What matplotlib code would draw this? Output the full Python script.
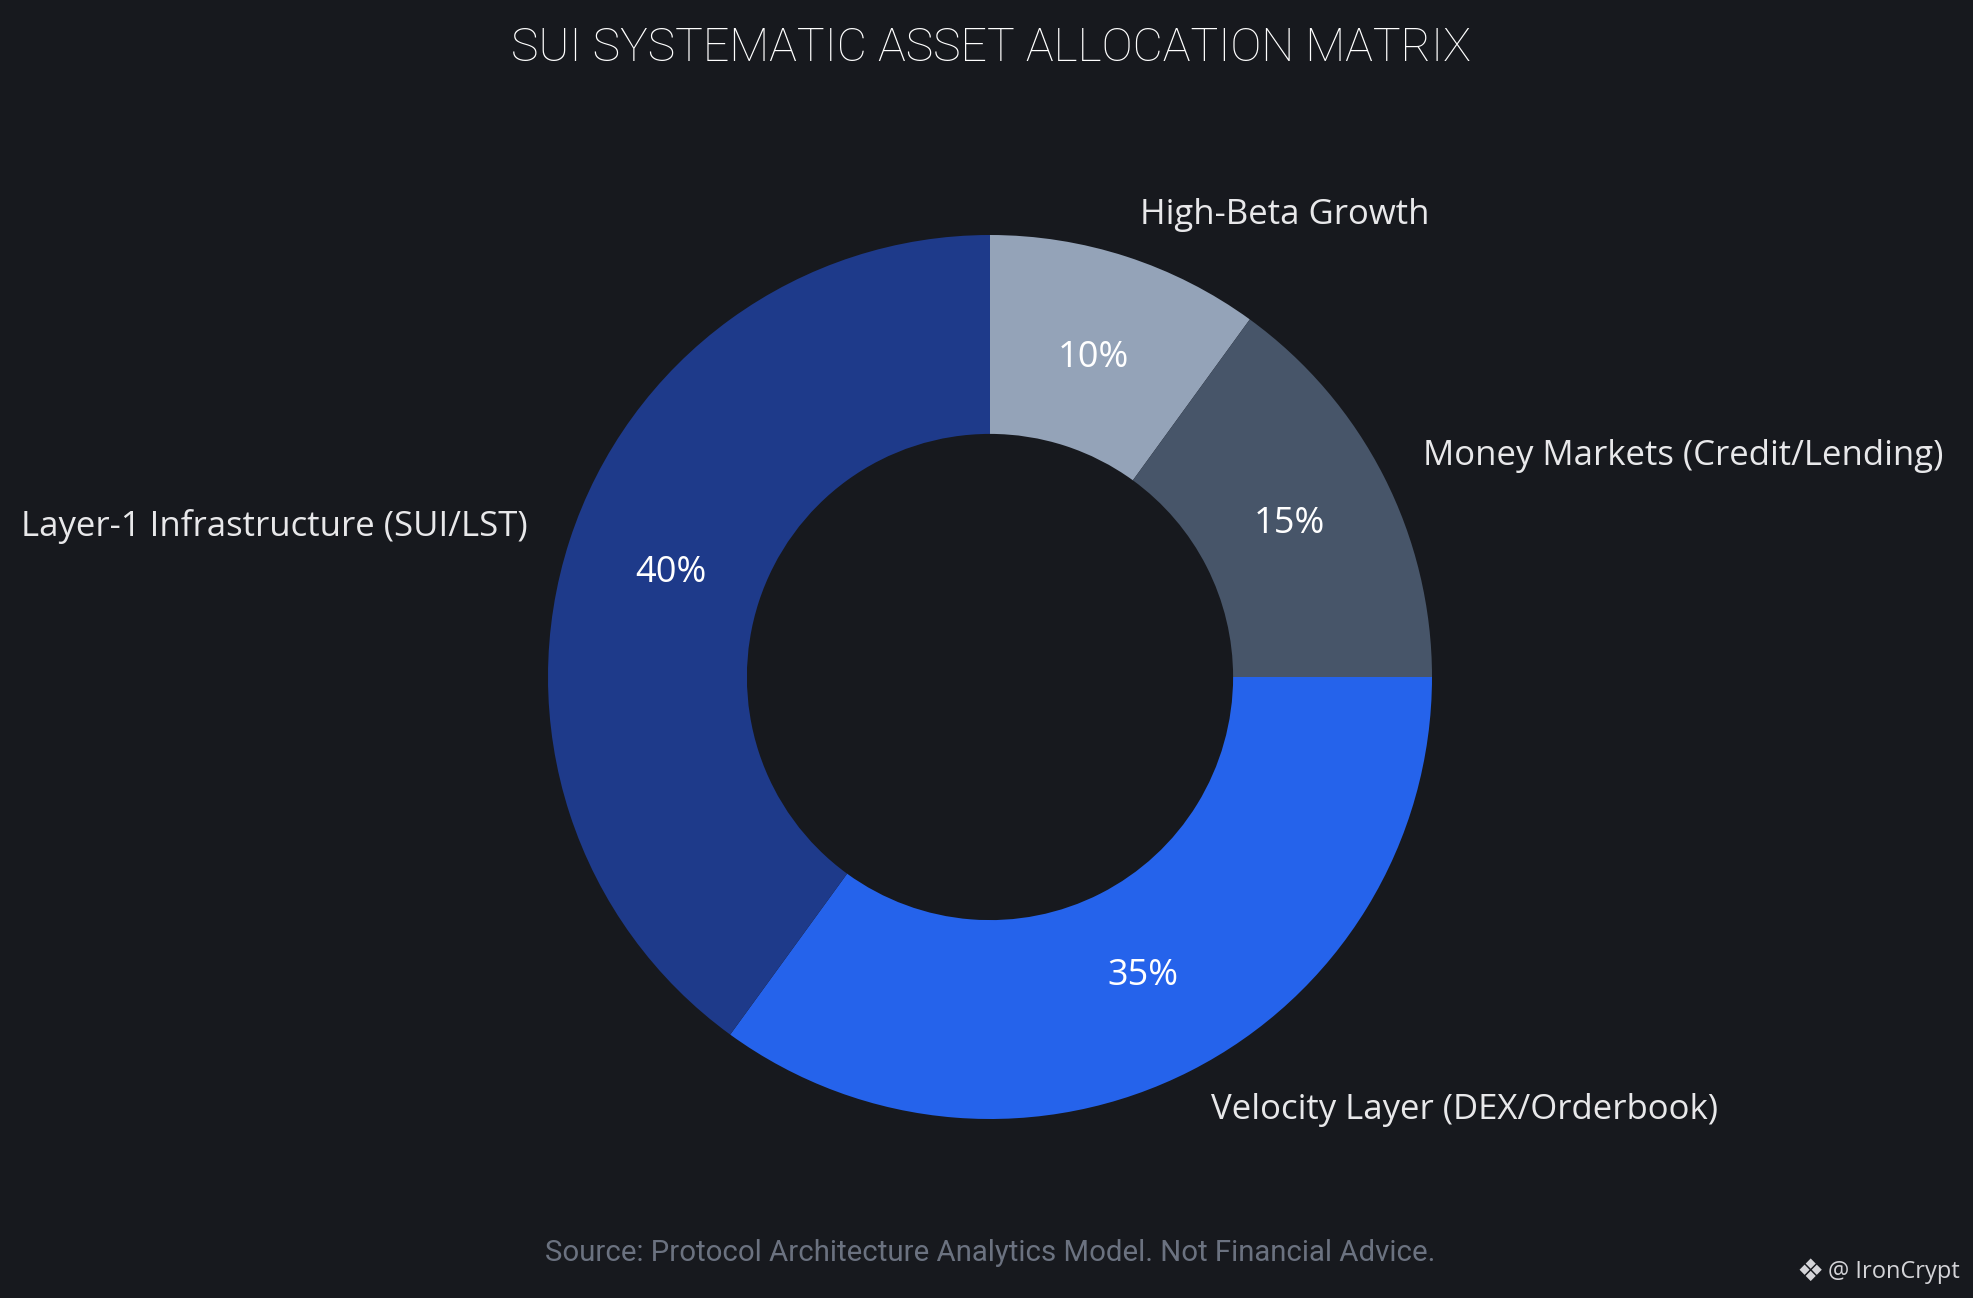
import matplotlib
matplotlib.use("Agg")
import matplotlib.pyplot as plt

categories = ["High-Beta Growth", "Money Markets (Credit/Lending)",
              "Velocity Layer (DEX/Orderbook)", "Layer-1 Infrastructure (SUI/LST)"]
values = [10, 15, 35, 40]
colors = ["#94a3b8", "#475569", "#2563eb", "#1e3a8a"]

BG = "#17191e"
W, H = 1973, 1298
fig = plt.figure(figsize=(W / 100, H / 100), dpi=100, facecolor=BG)
cx, cy, R = 990, H - 677, 442
ax = fig.add_axes([(cx - R) / W, (cy - R) / H, 2 * R / W, 2 * R / H])
ax.set_facecolor(BG)

wedges, texts, autotexts = ax.pie(
    values, labels=categories, colors=colors, startangle=90, counterclock=False,
    autopct="%d%%", pctdistance=0.76, labeldistance=1.1,
    wedgeprops=dict(width=0.45, edgecolor="none"),
    textprops=dict(color="#e8e8ea", fontsize=25, family="Open Sans"),
)
for t in autotexts:
    t.set_color("white")
    t.set_fontsize(26)
    t.set_family("Open Sans")
ax.set_xlim(-1.0, 1.0)
ax.set_ylim(-1.0, 1.0)
ax.set_aspect("equal")
ax.axis("off")

fig.text(0.502, 0.963, "SUI SYSTEMATIC ASSET ALLOCATION MATRIX", ha="center", va="center",
         color="white", fontsize=33.5, family="Roboto", fontweight="light")
fig.text(0.502, 0.035, "Source: Protocol Architecture Analytics Model. Not Financial Advice.",
         ha="center", va="center", color="#6b7280", fontsize=21.2, family="Roboto")
fig.text(0.9935, 0.02, "@ IronCrypt", ha="right", va="center", color="#d4d4d8",
         fontsize=17, family=["Open Sans", "DejaVu Sans"])
fig.text(0.9245, 0.02, "❖", ha="right", va="center", color="#d4d4d8",
         fontsize=22, family="DejaVu Sans")

fig.savefig("out.png", dpi=100, facecolor=BG)
